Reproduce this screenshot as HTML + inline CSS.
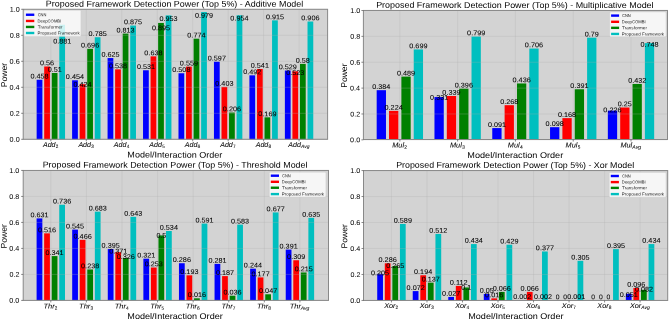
<!DOCTYPE html>
<html><head><meta charset="utf-8"><style>svg{will-change:transform}html,body{margin:0;padding:0;background:#fff;width:669px;height:321px;overflow:hidden}</style></head>
<body>
<svg width="669" height="321" viewBox="0 0 669 321" style="display:block;font-family:'Liberation Sans', sans-serif" text-rendering="geometricPrecision">
<rect width="669" height="321" fill="#fff"/>
<rect x="23.2" y="9.3" width="304.4" height="130" fill="#d3d3d3"/>
<rect x="36.65" y="79.76" width="5.75" height="59.54" fill="#0000ff"/>
<rect x="44.2" y="66.5" width="5.75" height="72.8" fill="#ff0000"/>
<rect x="51.75" y="73" width="5.75" height="66.3" fill="#008000"/>
<rect x="59.3" y="24.77" width="5.75" height="114.53" fill="#00bfbf"/>
<rect x="72.11" y="80.28" width="5.75" height="59.02" fill="#0000ff"/>
<rect x="79.66" y="84.18" width="5.75" height="55.12" fill="#ff0000"/>
<rect x="87.21" y="48.82" width="5.75" height="90.48" fill="#008000"/>
<rect x="94.76" y="37.25" width="5.75" height="102.05" fill="#00bfbf"/>
<rect x="107.57" y="58.05" width="5.75" height="81.25" fill="#0000ff"/>
<rect x="115.12" y="69.36" width="5.75" height="69.94" fill="#ff0000"/>
<rect x="122.67" y="33.61" width="5.75" height="105.69" fill="#008000"/>
<rect x="130.22" y="25.55" width="5.75" height="113.75" fill="#00bfbf"/>
<rect x="143.03" y="70.27" width="5.75" height="69.03" fill="#0000ff"/>
<rect x="150.58" y="56.36" width="5.75" height="82.94" fill="#ff0000"/>
<rect x="158.13" y="22.95" width="5.75" height="116.35" fill="#008000"/>
<rect x="165.68" y="15.41" width="5.75" height="123.89" fill="#00bfbf"/>
<rect x="178.49" y="73.26" width="5.75" height="66.04" fill="#0000ff"/>
<rect x="186.04" y="66.63" width="5.75" height="72.67" fill="#ff0000"/>
<rect x="193.59" y="38.68" width="5.75" height="100.62" fill="#008000"/>
<rect x="201.14" y="12.03" width="5.75" height="127.27" fill="#00bfbf"/>
<rect x="213.95" y="61.69" width="5.75" height="77.61" fill="#0000ff"/>
<rect x="221.5" y="86.91" width="5.75" height="52.39" fill="#ff0000"/>
<rect x="229.05" y="112.52" width="5.75" height="26.78" fill="#008000"/>
<rect x="236.6" y="15.28" width="5.75" height="124.02" fill="#00bfbf"/>
<rect x="249.41" y="75.34" width="5.75" height="63.96" fill="#0000ff"/>
<rect x="256.96" y="68.97" width="5.75" height="70.33" fill="#ff0000"/>
<rect x="264.51" y="117.33" width="5.75" height="21.97" fill="#008000"/>
<rect x="272.06" y="20.35" width="5.75" height="118.95" fill="#00bfbf"/>
<rect x="284.87" y="70.53" width="5.75" height="68.77" fill="#0000ff"/>
<rect x="292.42" y="71.31" width="5.75" height="67.99" fill="#ff0000"/>
<rect x="299.97" y="63.9" width="5.75" height="75.4" fill="#008000"/>
<rect x="307.52" y="21.52" width="5.75" height="117.78" fill="#00bfbf"/>
<path d="M23.2 139.3H327.6M23.2 113.3H327.6M23.2 87.3H327.6M23.2 61.3H327.6M23.2 35.3H327.6M23.2 9.3H327.6M50.85 9.3V139.3M86.31 9.3V139.3M121.77 9.3V139.3M157.23 9.3V139.3M192.69 9.3V139.3M228.15 9.3V139.3M263.61 9.3V139.3M299.07 9.3V139.3" stroke="#b0b0b0" stroke-opacity="0.35" stroke-width="0.8" fill="none"/>
<text x="30.44" y="78.56" font-size="6.83" textLength="18.2" lengthAdjust="spacingAndGlyphs" fill="#000" style="" transform="rotate(0.05 30.44 78.56)" stroke="#000" stroke-width="0.05">0.458</text>
<text x="40.03" y="65.3" font-size="6.83" textLength="14.13" lengthAdjust="spacingAndGlyphs" fill="#000" style="" transform="rotate(0.05 40.03 65.3)" stroke="#000" stroke-width="0.05">0.56</text>
<text x="47.67" y="71.8" font-size="6.83" textLength="13.97" lengthAdjust="spacingAndGlyphs" fill="#000" style="" transform="rotate(0.05 47.67 71.8)" stroke="#000" stroke-width="0.05">0.51</text>
<text x="53.17" y="43.4" font-size="6.83" textLength="18.08" lengthAdjust="spacingAndGlyphs" fill="#000" style="" transform="rotate(0.05 53.17 43.4)" stroke="#000" stroke-width="0.05">0.881</text>
<text x="65.86" y="79.08" font-size="6.83" textLength="18.17" lengthAdjust="spacingAndGlyphs" fill="#000" style="" transform="rotate(0.05 65.86 79.08)" stroke="#000" stroke-width="0.05">0.454</text>
<text x="73.41" y="86.8" font-size="6.83" textLength="18.17" lengthAdjust="spacingAndGlyphs" fill="#000" style="" transform="rotate(0.05 73.41 86.8)" stroke="#000" stroke-width="0.05">0.424</text>
<text x="80.98" y="47.62" font-size="6.83" textLength="18.24" lengthAdjust="spacingAndGlyphs" fill="#000" style="" transform="rotate(0.05 80.98 47.62)" stroke="#000" stroke-width="0.05">0.696</text>
<text x="88.62" y="36.05" font-size="6.83" textLength="18.06" lengthAdjust="spacingAndGlyphs" fill="#000" style="" transform="rotate(0.05 88.62 36.05)" stroke="#000" stroke-width="0.05">0.785</text>
<text x="101.43" y="56.85" font-size="6.83" textLength="18.06" lengthAdjust="spacingAndGlyphs" fill="#000" style="" transform="rotate(0.05 101.43 56.85)" stroke="#000" stroke-width="0.05">0.625</text>
<text x="108.91" y="68.16" font-size="6.83" textLength="18.2" lengthAdjust="spacingAndGlyphs" fill="#000" style="" transform="rotate(0.05 108.91 68.16)" stroke="#000" stroke-width="0.05">0.538</text>
<text x="116.5" y="32.41" font-size="6.83" textLength="18.12" lengthAdjust="spacingAndGlyphs" fill="#000" style="" transform="rotate(0.05 116.5 32.41)" stroke="#000" stroke-width="0.05">0.813</text>
<text x="124.08" y="24.35" font-size="6.83" textLength="18.06" lengthAdjust="spacingAndGlyphs" fill="#000" style="" transform="rotate(0.05 124.08 24.35)" stroke="#000" stroke-width="0.05">0.875</text>
<text x="136.9" y="69.07" font-size="6.83" textLength="18.08" lengthAdjust="spacingAndGlyphs" fill="#000" style="" transform="rotate(0.05 136.9 69.07)" stroke="#000" stroke-width="0.05">0.531</text>
<text x="144.37" y="55.16" font-size="6.83" textLength="18.2" lengthAdjust="spacingAndGlyphs" fill="#000" style="" transform="rotate(0.05 144.37 55.16)" stroke="#000" stroke-width="0.05">0.638</text>
<text x="151.99" y="30.2" font-size="6.83" textLength="18.06" lengthAdjust="spacingAndGlyphs" fill="#000" style="" transform="rotate(0.05 151.99 30.2)" stroke="#000" stroke-width="0.05">0.895</text>
<text x="159.51" y="21" font-size="6.83" textLength="18.12" lengthAdjust="spacingAndGlyphs" fill="#000" style="" transform="rotate(0.05 159.51 21)" stroke="#000" stroke-width="0.05">0.953</text>
<text x="172.28" y="72.06" font-size="6.83" textLength="18.2" lengthAdjust="spacingAndGlyphs" fill="#000" style="" transform="rotate(0.05 172.28 72.06)" stroke="#000" stroke-width="0.05">0.508</text>
<text x="179.84" y="65.43" font-size="6.83" textLength="18.22" lengthAdjust="spacingAndGlyphs" fill="#000" style="" transform="rotate(0.05 179.84 65.43)" stroke="#000" stroke-width="0.05">0.559</text>
<text x="187.34" y="37.48" font-size="6.83" textLength="18.17" lengthAdjust="spacingAndGlyphs" fill="#000" style="" transform="rotate(0.05 187.34 37.48)" stroke="#000" stroke-width="0.05">0.774</text>
<text x="194.94" y="17.7" font-size="6.83" textLength="18.22" lengthAdjust="spacingAndGlyphs" fill="#000" style="" transform="rotate(0.05 194.94 17.7)" stroke="#000" stroke-width="0.05">0.979</text>
<text x="207.8" y="60.49" font-size="6.83" textLength="18.14" lengthAdjust="spacingAndGlyphs" fill="#000" style="" transform="rotate(0.05 207.8 60.49)" stroke="#000" stroke-width="0.05">0.597</text>
<text x="215.33" y="85.71" font-size="6.83" textLength="18.12" lengthAdjust="spacingAndGlyphs" fill="#000" style="" transform="rotate(0.05 215.33 85.71)" stroke="#000" stroke-width="0.05">0.403</text>
<text x="222.82" y="111.32" font-size="6.83" textLength="18.24" lengthAdjust="spacingAndGlyphs" fill="#000" style="" transform="rotate(0.05 222.82 111.32)" stroke="#000" stroke-width="0.05">0.206</text>
<text x="230.35" y="20.6" font-size="6.83" textLength="18.17" lengthAdjust="spacingAndGlyphs" fill="#000" style="" transform="rotate(0.05 230.35 20.6)" stroke="#000" stroke-width="0.05">0.954</text>
<text x="243.31" y="74.14" font-size="6.83" textLength="18.04" lengthAdjust="spacingAndGlyphs" fill="#000" style="" transform="rotate(0.05 243.31 74.14)" stroke="#000" stroke-width="0.05">0.492</text>
<text x="250.83" y="67.77" font-size="6.83" textLength="18.08" lengthAdjust="spacingAndGlyphs" fill="#000" style="" transform="rotate(0.05 250.83 67.77)" stroke="#000" stroke-width="0.05">0.541</text>
<text x="258.31" y="116.13" font-size="6.83" textLength="18.22" lengthAdjust="spacingAndGlyphs" fill="#000" style="" transform="rotate(0.05 258.31 116.13)" stroke="#000" stroke-width="0.05">0.169</text>
<text x="265.92" y="19.15" font-size="6.83" textLength="18.06" lengthAdjust="spacingAndGlyphs" fill="#000" style="" transform="rotate(0.05 265.92 19.15)" stroke="#000" stroke-width="0.05">0.915</text>
<text x="278.67" y="69.33" font-size="6.83" textLength="18.22" lengthAdjust="spacingAndGlyphs" fill="#000" style="" transform="rotate(0.05 278.67 69.33)" stroke="#000" stroke-width="0.05">0.529</text>
<text x="286.25" y="74.9" font-size="6.83" textLength="18.12" lengthAdjust="spacingAndGlyphs" fill="#000" style="" transform="rotate(0.05 286.25 74.9)" stroke="#000" stroke-width="0.05">0.523</text>
<text x="295.81" y="62.7" font-size="6.83" textLength="14.09" lengthAdjust="spacingAndGlyphs" fill="#000" style="" transform="rotate(0.05 295.81 62.7)" stroke="#000" stroke-width="0.05">0.58</text>
<text x="301.29" y="20.32" font-size="6.83" textLength="18.24" lengthAdjust="spacingAndGlyphs" fill="#000" style="" transform="rotate(0.05 301.29 20.32)" stroke="#000" stroke-width="0.05">0.906</text>
<rect x="23.2" y="9.3" width="304.4" height="130" fill="none" stroke="#888" stroke-width="1.0"/>
<path d="M21.2 139.3H23.2M21.2 113.3H23.2M21.2 87.3H23.2M21.2 61.3H23.2M21.2 35.3H23.2M21.2 9.3H23.2M50.85 139.3V141.3M86.31 139.3V141.3M121.77 139.3V141.3M157.23 139.3V141.3M192.69 139.3V141.3M228.15 139.3V141.3M263.61 139.3V141.3M299.07 139.3V141.3" stroke="#555" stroke-width="0.7" fill="none"/>
<text x="9.64" y="141.75" font-size="6.89" textLength="10.04" lengthAdjust="spacingAndGlyphs" fill="#000" style="" transform="rotate(0.05 9.64 141.75)">0.0</text>
<text x="9.86" y="115.75" font-size="6.89" textLength="9.89" lengthAdjust="spacingAndGlyphs" fill="#000" style="" transform="rotate(0.05 9.86 115.75)">0.2</text>
<text x="9.57" y="89.75" font-size="6.89" textLength="10.04" lengthAdjust="spacingAndGlyphs" fill="#000" style="" transform="rotate(0.05 9.57 89.75)">0.4</text>
<text x="9.62" y="63.75" font-size="6.89" textLength="10.1" lengthAdjust="spacingAndGlyphs" fill="#000" style="" transform="rotate(0.05 9.62 63.75)">0.6</text>
<text x="9.65" y="37.75" font-size="6.89" textLength="10.06" lengthAdjust="spacingAndGlyphs" fill="#000" style="" transform="rotate(0.05 9.65 37.75)">0.8</text>
<text x="9.66" y="11.75" font-size="6.89" textLength="10.02" lengthAdjust="spacingAndGlyphs" fill="#000" style="" transform="rotate(0.05 9.66 11.75)">1.0</text>
<text x="42.95" y="146.9" font-size="6.89" textLength="12.54" lengthAdjust="spacingAndGlyphs" fill="#000" style="font-style:italic;" transform="rotate(0.05 42.95 146.9)" stroke="#000" stroke-width="0.05">Add</text>
<text x="55.75" y="147.97" font-size="4.82" textLength="2.57" lengthAdjust="spacingAndGlyphs" fill="#000" style="" transform="rotate(0.05 55.75 147.97)" stroke="#000" stroke-width="0.05">2</text>
<text x="78.41" y="146.9" font-size="6.89" textLength="12.54" lengthAdjust="spacingAndGlyphs" fill="#000" style="font-style:italic;" transform="rotate(0.05 78.41 146.9)" stroke="#000" stroke-width="0.05">Add</text>
<text x="91.28" y="147.97" font-size="4.82" textLength="2.56" lengthAdjust="spacingAndGlyphs" fill="#000" style="" transform="rotate(0.05 91.28 147.97)" stroke="#000" stroke-width="0.05">3</text>
<text x="113.87" y="146.9" font-size="6.89" textLength="12.54" lengthAdjust="spacingAndGlyphs" fill="#000" style="font-style:italic;" transform="rotate(0.05 113.87 146.9)" stroke="#000" stroke-width="0.05">Add</text>
<text x="126.68" y="147.97" font-size="4.82" textLength="2.67" lengthAdjust="spacingAndGlyphs" fill="#000" style="" transform="rotate(0.05 126.68 147.97)" stroke="#000" stroke-width="0.05">4</text>
<text x="149.33" y="146.9" font-size="6.89" textLength="12.54" lengthAdjust="spacingAndGlyphs" fill="#000" style="font-style:italic;" transform="rotate(0.05 149.33 146.9)" stroke="#000" stroke-width="0.05">Add</text>
<text x="162.2" y="147.97" font-size="4.82" textLength="2.52" lengthAdjust="spacingAndGlyphs" fill="#000" style="" transform="rotate(0.05 162.2 147.97)" stroke="#000" stroke-width="0.05">5</text>
<text x="184.79" y="146.9" font-size="6.89" textLength="12.54" lengthAdjust="spacingAndGlyphs" fill="#000" style="font-style:italic;" transform="rotate(0.05 184.79 146.9)" stroke="#000" stroke-width="0.05">Add</text>
<text x="197.56" y="147.97" font-size="4.82" textLength="2.76" lengthAdjust="spacingAndGlyphs" fill="#000" style="" transform="rotate(0.05 197.56 147.97)" stroke="#000" stroke-width="0.05">6</text>
<text x="220.25" y="146.9" font-size="6.89" textLength="12.54" lengthAdjust="spacingAndGlyphs" fill="#000" style="font-style:italic;" transform="rotate(0.05 220.25 146.9)" stroke="#000" stroke-width="0.05">Add</text>
<text x="233.08" y="147.97" font-size="4.82" textLength="2.61" lengthAdjust="spacingAndGlyphs" fill="#000" style="" transform="rotate(0.05 233.08 147.97)" stroke="#000" stroke-width="0.05">7</text>
<text x="255.71" y="146.9" font-size="6.89" textLength="12.54" lengthAdjust="spacingAndGlyphs" fill="#000" style="font-style:italic;" transform="rotate(0.05 255.71 146.9)" stroke="#000" stroke-width="0.05">Add</text>
<text x="268.51" y="147.97" font-size="4.82" textLength="2.7" lengthAdjust="spacingAndGlyphs" fill="#000" style="" transform="rotate(0.05 268.51 147.97)" stroke="#000" stroke-width="0.05">8</text>
<text x="288.28" y="146.9" font-size="6.89" textLength="12.54" lengthAdjust="spacingAndGlyphs" fill="#000" style="font-style:italic;" transform="rotate(0.05 288.28 146.9)" stroke="#000" stroke-width="0.05">Add</text>
<text x="300.98" y="147.97" font-size="4.82" textLength="8.56" lengthAdjust="spacingAndGlyphs" fill="#000" style="font-style:italic;" transform="rotate(0.05 300.98 147.97)" stroke="#000" stroke-width="0.05">Avg</text>
<text x="45.87" y="6.6" font-size="8.42" textLength="257.42" lengthAdjust="spacingAndGlyphs" fill="#000" style="" transform="rotate(0.05 45.87 6.6)">Proposed Framework Detection Power (Top 5%) - Additive Model</text>
<text x="127.36" y="157.6" font-size="8.42" textLength="94.99" lengthAdjust="spacingAndGlyphs" fill="#000" style="" transform="rotate(0.05 127.36 157.6)">Model/Interaction Order</text>
<text x="7" y="87.15" font-size="8.42" textLength="24.35" lengthAdjust="spacingAndGlyphs" fill="#000" transform="rotate(-89.95 7 87.15)">Power</text>
<rect x="24.1" y="10.3" width="56.8" height="26.1" rx="1" fill="#fff" fill-opacity="0.8" stroke="#ccc" stroke-opacity="0.8" stroke-width="0.5"/>
<rect x="25.9" y="13.55" width="8.4" height="2.4" fill="#0000ff"/>
<text x="37.7" y="16.2" font-size="4.24" textLength="8.69" lengthAdjust="spacingAndGlyphs" fill="#222" style="" transform="rotate(0.05 37.7 16.2)" text-rendering="auto">CNN</text>
<rect x="25.9" y="19.75" width="8.4" height="2.4" fill="#ff0000"/>
<text x="37.56" y="22.4" font-size="4.24" textLength="23.8" lengthAdjust="spacingAndGlyphs" fill="#222" style="" transform="rotate(0.05 37.56 22.4)" text-rendering="auto">DeepCOMBI</text>
<rect x="25.9" y="25.75" width="8.4" height="2.4" fill="#008000"/>
<text x="37.8" y="28.4" font-size="4.24" textLength="24.85" lengthAdjust="spacingAndGlyphs" fill="#222" style="" transform="rotate(0.05 37.8 28.4)" text-rendering="auto">Transformer</text>
<rect x="25.9" y="31.8" width="8.4" height="2.4" fill="#00bfbf"/>
<text x="37.54" y="34.45" font-size="4.24" textLength="42.23" lengthAdjust="spacingAndGlyphs" fill="#222" style="" transform="rotate(0.05 37.54 34.45)" text-rendering="auto">Proposed Framework</text>
<rect x="363.4" y="10.45" width="304.1" height="129.05" fill="#d3d3d3"/>
<rect x="376.68" y="90.18" width="9.3" height="49.67" fill="#0000ff"/>
<rect x="389.03" y="110.88" width="9.3" height="28.97" fill="#ff0000"/>
<rect x="401.38" y="76.6" width="9.3" height="63.25" fill="#008000"/>
<rect x="413.73" y="49.43" width="9.3" height="90.42" fill="#00bfbf"/>
<rect x="434.47" y="97.04" width="9.3" height="42.81" fill="#0000ff"/>
<rect x="446.82" y="96" width="9.3" height="43.85" fill="#ff0000"/>
<rect x="459.17" y="88.63" width="9.3" height="51.22" fill="#008000"/>
<rect x="471.52" y="36.5" width="9.3" height="103.35" fill="#00bfbf"/>
<rect x="492.26" y="128.08" width="9.3" height="11.77" fill="#0000ff"/>
<rect x="504.61" y="105.18" width="9.3" height="34.67" fill="#ff0000"/>
<rect x="516.96" y="83.45" width="9.3" height="56.4" fill="#008000"/>
<rect x="529.31" y="48.53" width="9.3" height="91.32" fill="#00bfbf"/>
<rect x="550.05" y="127.17" width="9.3" height="12.68" fill="#0000ff"/>
<rect x="562.4" y="118.12" width="9.3" height="21.73" fill="#ff0000"/>
<rect x="574.75" y="89.27" width="9.3" height="50.58" fill="#008000"/>
<rect x="587.1" y="37.66" width="9.3" height="102.19" fill="#00bfbf"/>
<rect x="607.84" y="110.62" width="9.3" height="29.23" fill="#0000ff"/>
<rect x="620.19" y="107.51" width="9.3" height="32.34" fill="#ff0000"/>
<rect x="632.53" y="83.97" width="9.3" height="55.88" fill="#008000"/>
<rect x="644.88" y="43.1" width="9.3" height="96.75" fill="#00bfbf"/>
<path d="M363.4 139.85H667.5M363.4 113.98H667.5M363.4 88.11H667.5M363.4 62.24H667.5M363.4 36.37H667.5M363.4 10.5H667.5M399.85 10.45V139.5M457.64 10.45V139.5M515.43 10.45V139.5M573.22 10.45V139.5M631.01 10.45V139.5" stroke="#b0b0b0" stroke-opacity="0.35" stroke-width="0.8" fill="none"/>
<text x="372.2" y="88.98" font-size="6.83" textLength="18.17" lengthAdjust="spacingAndGlyphs" fill="#000" style="" transform="rotate(0.05 372.2 88.98)" stroke="#000" stroke-width="0.05">0.384</text>
<text x="384.55" y="109.68" font-size="6.83" textLength="18.17" lengthAdjust="spacingAndGlyphs" fill="#000" style="" transform="rotate(0.05 384.55 109.68)" stroke="#000" stroke-width="0.05">0.224</text>
<text x="396.95" y="75.4" font-size="6.83" textLength="18.22" lengthAdjust="spacingAndGlyphs" fill="#000" style="" transform="rotate(0.05 396.95 75.4)" stroke="#000" stroke-width="0.05">0.489</text>
<text x="409.3" y="48.23" font-size="6.83" textLength="18.22" lengthAdjust="spacingAndGlyphs" fill="#000" style="" transform="rotate(0.05 409.3 48.23)" stroke="#000" stroke-width="0.05">0.699</text>
<text x="430.11" y="99.7" font-size="6.83" textLength="18.08" lengthAdjust="spacingAndGlyphs" fill="#000" style="" transform="rotate(0.05 430.11 99.7)" stroke="#000" stroke-width="0.05">0.331</text>
<text x="442.39" y="94.8" font-size="6.83" textLength="18.22" lengthAdjust="spacingAndGlyphs" fill="#000" style="" transform="rotate(0.05 442.39 94.8)" stroke="#000" stroke-width="0.05">0.339</text>
<text x="454.71" y="87.43" font-size="6.83" textLength="18.24" lengthAdjust="spacingAndGlyphs" fill="#000" style="" transform="rotate(0.05 454.71 87.43)" stroke="#000" stroke-width="0.05">0.396</text>
<text x="467.09" y="35.3" font-size="6.83" textLength="18.22" lengthAdjust="spacingAndGlyphs" fill="#000" style="" transform="rotate(0.05 467.09 35.3)" stroke="#000" stroke-width="0.05">0.799</text>
<text x="487.9" y="126.88" font-size="6.83" textLength="18.08" lengthAdjust="spacingAndGlyphs" fill="#000" style="" transform="rotate(0.05 487.9 126.88)" stroke="#000" stroke-width="0.05">0.091</text>
<text x="500.17" y="103.98" font-size="6.83" textLength="18.2" lengthAdjust="spacingAndGlyphs" fill="#000" style="" transform="rotate(0.05 500.17 103.98)" stroke="#000" stroke-width="0.05">0.268</text>
<text x="512.5" y="82.25" font-size="6.83" textLength="18.24" lengthAdjust="spacingAndGlyphs" fill="#000" style="" transform="rotate(0.05 512.5 82.25)" stroke="#000" stroke-width="0.05">0.436</text>
<text x="524.85" y="47.33" font-size="6.83" textLength="18.24" lengthAdjust="spacingAndGlyphs" fill="#000" style="" transform="rotate(0.05 524.85 47.33)" stroke="#000" stroke-width="0.05">0.706</text>
<text x="545.61" y="125.97" font-size="6.83" textLength="18.2" lengthAdjust="spacingAndGlyphs" fill="#000" style="" transform="rotate(0.05 545.61 125.97)" stroke="#000" stroke-width="0.05">0.098</text>
<text x="557.96" y="116.92" font-size="6.83" textLength="18.2" lengthAdjust="spacingAndGlyphs" fill="#000" style="" transform="rotate(0.05 557.96 116.92)" stroke="#000" stroke-width="0.05">0.168</text>
<text x="570.39" y="88.07" font-size="6.83" textLength="18.08" lengthAdjust="spacingAndGlyphs" fill="#000" style="" transform="rotate(0.05 570.39 88.07)" stroke="#000" stroke-width="0.05">0.391</text>
<text x="584.72" y="36.46" font-size="6.83" textLength="14.11" lengthAdjust="spacingAndGlyphs" fill="#000" style="" transform="rotate(0.05 584.72 36.46)" stroke="#000" stroke-width="0.05">0.79</text>
<text x="603.38" y="112.3" font-size="6.83" textLength="18.24" lengthAdjust="spacingAndGlyphs" fill="#000" style="" transform="rotate(0.05 603.38 112.3)" stroke="#000" stroke-width="0.05">0.226</text>
<text x="617.87" y="106.31" font-size="6.83" textLength="13.95" lengthAdjust="spacingAndGlyphs" fill="#000" style="" transform="rotate(0.05 617.87 106.31)" stroke="#000" stroke-width="0.05">0.25</text>
<text x="628.21" y="82.77" font-size="6.83" textLength="18.04" lengthAdjust="spacingAndGlyphs" fill="#000" style="" transform="rotate(0.05 628.21 82.77)" stroke="#000" stroke-width="0.05">0.432</text>
<text x="640.45" y="46.8" font-size="6.83" textLength="18.2" lengthAdjust="spacingAndGlyphs" fill="#000" style="" transform="rotate(0.05 640.45 46.8)" stroke="#000" stroke-width="0.05">0.748</text>
<rect x="363.4" y="10.45" width="304.1" height="129.05" fill="none" stroke="#888" stroke-width="1.0"/>
<path d="M361.4 139.85H363.4M361.4 113.98H363.4M361.4 88.11H363.4M361.4 62.24H363.4M361.4 36.37H363.4M361.4 10.5H363.4M399.85 139.5V141.5M457.64 139.5V141.5M515.43 139.5V141.5M573.22 139.5V141.5M631.01 139.5V141.5" stroke="#555" stroke-width="0.7" fill="none"/>
<text x="350.14" y="142.3" font-size="6.89" textLength="10.04" lengthAdjust="spacingAndGlyphs" fill="#000" style="" transform="rotate(0.05 350.14 142.3)">0.0</text>
<text x="350.36" y="116.43" font-size="6.89" textLength="9.89" lengthAdjust="spacingAndGlyphs" fill="#000" style="" transform="rotate(0.05 350.36 116.43)">0.2</text>
<text x="350.07" y="90.56" font-size="6.89" textLength="10.04" lengthAdjust="spacingAndGlyphs" fill="#000" style="" transform="rotate(0.05 350.07 90.56)">0.4</text>
<text x="350.12" y="64.69" font-size="6.89" textLength="10.1" lengthAdjust="spacingAndGlyphs" fill="#000" style="" transform="rotate(0.05 350.12 64.69)">0.6</text>
<text x="350.15" y="38.82" font-size="6.89" textLength="10.06" lengthAdjust="spacingAndGlyphs" fill="#000" style="" transform="rotate(0.05 350.15 38.82)">0.8</text>
<text x="350.16" y="12.95" font-size="6.89" textLength="10.02" lengthAdjust="spacingAndGlyphs" fill="#000" style="" transform="rotate(0.05 350.16 12.95)">1.0</text>
<text x="392.27" y="147.6" font-size="7.1" textLength="11.74" lengthAdjust="spacingAndGlyphs" fill="#000" style="font-style:italic;" transform="rotate(0.05 392.27 147.6)" stroke="#000" stroke-width="0.05">Mul</text>
<text x="404.3" y="148.7" font-size="4.97" textLength="2.65" lengthAdjust="spacingAndGlyphs" fill="#000" style="" transform="rotate(0.05 404.3 148.7)" stroke="#000" stroke-width="0.05">2</text>
<text x="450.06" y="147.6" font-size="7.1" textLength="11.74" lengthAdjust="spacingAndGlyphs" fill="#000" style="font-style:italic;" transform="rotate(0.05 450.06 147.6)" stroke="#000" stroke-width="0.05">Mul</text>
<text x="462.17" y="148.7" font-size="4.97" textLength="2.64" lengthAdjust="spacingAndGlyphs" fill="#000" style="" transform="rotate(0.05 462.17 148.7)" stroke="#000" stroke-width="0.05">3</text>
<text x="507.85" y="147.6" font-size="7.1" textLength="11.74" lengthAdjust="spacingAndGlyphs" fill="#000" style="font-style:italic;" transform="rotate(0.05 507.85 147.6)" stroke="#000" stroke-width="0.05">Mul</text>
<text x="519.9" y="148.7" font-size="4.97" textLength="2.75" lengthAdjust="spacingAndGlyphs" fill="#000" style="" transform="rotate(0.05 519.9 148.7)" stroke="#000" stroke-width="0.05">4</text>
<text x="565.64" y="147.6" font-size="7.1" textLength="11.74" lengthAdjust="spacingAndGlyphs" fill="#000" style="font-style:italic;" transform="rotate(0.05 565.64 147.6)" stroke="#000" stroke-width="0.05">Mul</text>
<text x="577.75" y="148.7" font-size="4.97" textLength="2.59" lengthAdjust="spacingAndGlyphs" fill="#000" style="" transform="rotate(0.05 577.75 148.7)" stroke="#000" stroke-width="0.05">5</text>
<text x="620.45" y="147.6" font-size="7.1" textLength="11.74" lengthAdjust="spacingAndGlyphs" fill="#000" style="font-style:italic;" transform="rotate(0.05 620.45 147.6)" stroke="#000" stroke-width="0.05">Mul</text>
<text x="632.38" y="148.7" font-size="4.97" textLength="8.82" lengthAdjust="spacingAndGlyphs" fill="#000" style="font-style:italic;" transform="rotate(0.05 632.38 148.7)" stroke="#000" stroke-width="0.05">Avg</text>
<text x="376.17" y="7.8" font-size="8.42" textLength="277.43" lengthAdjust="spacingAndGlyphs" fill="#000" style="" transform="rotate(0.05 376.17 7.8)">Proposed Framework Detection Power (Top 5%) - Multiplicative Model</text>
<text x="467.35" y="157.9" font-size="8.42" textLength="95.9" lengthAdjust="spacingAndGlyphs" fill="#000" style="" transform="rotate(0.05 467.35 157.9)">Model/Interaction Order</text>
<text x="347" y="87.85" font-size="8.42" textLength="24.35" lengthAdjust="spacingAndGlyphs" fill="#000" transform="rotate(-89.95 347 87.85)">Power</text>
<rect x="609.8" y="11.9" width="56.2" height="24.8" rx="1" fill="#fff" fill-opacity="0.8" stroke="#ccc" stroke-opacity="0.8" stroke-width="0.5"/>
<rect x="611.1" y="14.4" width="8" height="2.4" fill="#0000ff"/>
<text x="622" y="17.05" font-size="4.24" textLength="8.69" lengthAdjust="spacingAndGlyphs" fill="#222" style="" transform="rotate(0.05 622 17.05)" text-rendering="auto">CNN</text>
<rect x="611.1" y="20.6" width="8" height="2.4" fill="#ff0000"/>
<text x="621.86" y="23.25" font-size="4.24" textLength="23.8" lengthAdjust="spacingAndGlyphs" fill="#222" style="" transform="rotate(0.05 621.86 23.25)" text-rendering="auto">DeepCOMBI</text>
<rect x="611.1" y="26.65" width="8" height="2.4" fill="#008000"/>
<text x="622.1" y="29.3" font-size="4.24" textLength="24.85" lengthAdjust="spacingAndGlyphs" fill="#222" style="" transform="rotate(0.05 622.1 29.3)" text-rendering="auto">Transformer</text>
<rect x="611.1" y="32.75" width="8" height="2.4" fill="#00bfbf"/>
<text x="621.84" y="35.4" font-size="4.24" textLength="42.23" lengthAdjust="spacingAndGlyphs" fill="#222" style="" transform="rotate(0.05 621.84 35.4)" text-rendering="auto">Proposed Framework</text>
<rect x="23.2" y="170.45" width="305.3" height="129.95" fill="#d3d3d3"/>
<rect x="36.6" y="218.4" width="5.75" height="82" fill="#0000ff"/>
<rect x="44.15" y="233.35" width="5.75" height="67.05" fill="#ff0000"/>
<rect x="51.7" y="256.09" width="5.75" height="44.31" fill="#008000"/>
<rect x="59.25" y="204.76" width="5.75" height="95.64" fill="#00bfbf"/>
<rect x="72.19" y="229.58" width="5.75" height="70.82" fill="#0000ff"/>
<rect x="79.74" y="239.84" width="5.75" height="60.56" fill="#ff0000"/>
<rect x="87.29" y="269.47" width="5.75" height="30.93" fill="#008000"/>
<rect x="94.84" y="211.64" width="5.75" height="88.76" fill="#00bfbf"/>
<rect x="107.78" y="249.07" width="5.75" height="51.33" fill="#0000ff"/>
<rect x="115.33" y="252.19" width="5.75" height="48.21" fill="#ff0000"/>
<rect x="122.88" y="258.04" width="5.75" height="42.36" fill="#008000"/>
<rect x="130.43" y="216.84" width="5.75" height="83.56" fill="#00bfbf"/>
<rect x="143.37" y="258.69" width="5.75" height="41.71" fill="#0000ff"/>
<rect x="150.92" y="267.52" width="5.75" height="32.88" fill="#ff0000"/>
<rect x="158.47" y="235.42" width="5.75" height="64.97" fill="#008000"/>
<rect x="166.02" y="231.01" width="5.75" height="69.39" fill="#00bfbf"/>
<rect x="178.96" y="263.23" width="5.75" height="37.17" fill="#0000ff"/>
<rect x="186.51" y="275.32" width="5.75" height="25.08" fill="#ff0000"/>
<rect x="194.06" y="298.32" width="5.75" height="2.08" fill="#008000"/>
<rect x="201.61" y="223.6" width="5.75" height="76.8" fill="#00bfbf"/>
<rect x="214.55" y="263.88" width="5.75" height="36.52" fill="#0000ff"/>
<rect x="222.1" y="276.1" width="5.75" height="24.3" fill="#ff0000"/>
<rect x="229.65" y="295.72" width="5.75" height="4.68" fill="#008000"/>
<rect x="237.2" y="224.64" width="5.75" height="75.76" fill="#00bfbf"/>
<rect x="250.14" y="268.69" width="5.75" height="31.71" fill="#0000ff"/>
<rect x="257.69" y="277.4" width="5.75" height="23" fill="#ff0000"/>
<rect x="265.24" y="294.29" width="5.75" height="6.11" fill="#008000"/>
<rect x="272.79" y="212.42" width="5.75" height="87.98" fill="#00bfbf"/>
<rect x="285.73" y="249.59" width="5.75" height="50.81" fill="#0000ff"/>
<rect x="293.28" y="260.25" width="5.75" height="40.15" fill="#ff0000"/>
<rect x="300.83" y="272.46" width="5.75" height="27.94" fill="#008000"/>
<rect x="308.38" y="217.88" width="5.75" height="82.52" fill="#00bfbf"/>
<path d="M23.2 300.4H328.5M23.2 274.41H328.5M23.2 248.42H328.5M23.2 222.43H328.5M23.2 196.44H328.5M23.2 170.45H328.5M50.8 170.45V300.4M86.39 170.45V300.4M121.98 170.45V300.4M157.57 170.45V300.4M193.16 170.45V300.4M228.75 170.45V300.4M264.34 170.45V300.4M299.93 170.45V300.4" stroke="#b0b0b0" stroke-opacity="0.35" stroke-width="0.8" fill="none"/>
<text x="30.47" y="217.2" font-size="6.83" textLength="18.08" lengthAdjust="spacingAndGlyphs" fill="#000" style="" transform="rotate(0.05 30.47 217.2)" stroke="#000" stroke-width="0.05">0.631</text>
<text x="37.92" y="232.15" font-size="6.83" textLength="18.24" lengthAdjust="spacingAndGlyphs" fill="#000" style="" transform="rotate(0.05 37.92 232.15)" stroke="#000" stroke-width="0.05">0.516</text>
<text x="45.57" y="254.89" font-size="6.83" textLength="18.08" lengthAdjust="spacingAndGlyphs" fill="#000" style="" transform="rotate(0.05 45.57 254.89)" stroke="#000" stroke-width="0.05">0.341</text>
<text x="53.02" y="203.56" font-size="6.83" textLength="18.24" lengthAdjust="spacingAndGlyphs" fill="#000" style="" transform="rotate(0.05 53.02 203.56)" stroke="#000" stroke-width="0.05">0.736</text>
<text x="66.05" y="228.38" font-size="6.83" textLength="18.06" lengthAdjust="spacingAndGlyphs" fill="#000" style="" transform="rotate(0.05 66.05 228.38)" stroke="#000" stroke-width="0.05">0.545</text>
<text x="73.51" y="238.64" font-size="6.83" textLength="18.24" lengthAdjust="spacingAndGlyphs" fill="#000" style="" transform="rotate(0.05 73.51 238.64)" stroke="#000" stroke-width="0.05">0.466</text>
<text x="81.08" y="268.27" font-size="6.83" textLength="18.2" lengthAdjust="spacingAndGlyphs" fill="#000" style="" transform="rotate(0.05 81.08 268.27)" stroke="#000" stroke-width="0.05">0.238</text>
<text x="88.67" y="210.44" font-size="6.83" textLength="18.12" lengthAdjust="spacingAndGlyphs" fill="#000" style="" transform="rotate(0.05 88.67 210.44)" stroke="#000" stroke-width="0.05">0.683</text>
<text x="101.64" y="247.87" font-size="6.83" textLength="18.06" lengthAdjust="spacingAndGlyphs" fill="#000" style="" transform="rotate(0.05 101.64 247.87)" stroke="#000" stroke-width="0.05">0.395</text>
<text x="109.2" y="253.5" font-size="6.83" textLength="18.08" lengthAdjust="spacingAndGlyphs" fill="#000" style="" transform="rotate(0.05 109.2 253.5)" stroke="#000" stroke-width="0.05">0.371</text>
<text x="116.65" y="258.9" font-size="6.83" textLength="18.24" lengthAdjust="spacingAndGlyphs" fill="#000" style="" transform="rotate(0.05 116.65 258.9)" stroke="#000" stroke-width="0.05">0.326</text>
<text x="124.26" y="215.64" font-size="6.83" textLength="18.12" lengthAdjust="spacingAndGlyphs" fill="#000" style="" transform="rotate(0.05 124.26 215.64)" stroke="#000" stroke-width="0.05">0.643</text>
<text x="137.24" y="257.49" font-size="6.83" textLength="18.08" lengthAdjust="spacingAndGlyphs" fill="#000" style="" transform="rotate(0.05 137.24 257.49)" stroke="#000" stroke-width="0.05">0.321</text>
<text x="144.75" y="266.32" font-size="6.83" textLength="18.12" lengthAdjust="spacingAndGlyphs" fill="#000" style="" transform="rotate(0.05 144.75 266.32)" stroke="#000" stroke-width="0.05">0.253</text>
<text x="156.43" y="237.7" font-size="6.83" textLength="9.84" lengthAdjust="spacingAndGlyphs" fill="#000" style="" transform="rotate(0.05 156.43 237.7)" stroke="#000" stroke-width="0.05">0.5</text>
<text x="159.77" y="229.81" font-size="6.83" textLength="18.17" lengthAdjust="spacingAndGlyphs" fill="#000" style="" transform="rotate(0.05 159.77 229.81)" stroke="#000" stroke-width="0.05">0.534</text>
<text x="172.73" y="262.03" font-size="6.83" textLength="18.24" lengthAdjust="spacingAndGlyphs" fill="#000" style="" transform="rotate(0.05 172.73 262.03)" stroke="#000" stroke-width="0.05">0.286</text>
<text x="180.34" y="274.12" font-size="6.83" textLength="18.12" lengthAdjust="spacingAndGlyphs" fill="#000" style="" transform="rotate(0.05 180.34 274.12)" stroke="#000" stroke-width="0.05">0.193</text>
<text x="187.83" y="297.12" font-size="6.83" textLength="18.24" lengthAdjust="spacingAndGlyphs" fill="#000" style="" transform="rotate(0.05 187.83 297.12)" stroke="#000" stroke-width="0.05">0.016</text>
<text x="195.48" y="222.4" font-size="6.83" textLength="18.08" lengthAdjust="spacingAndGlyphs" fill="#000" style="" transform="rotate(0.05 195.48 222.4)" stroke="#000" stroke-width="0.05">0.591</text>
<text x="208.42" y="262.68" font-size="6.83" textLength="18.08" lengthAdjust="spacingAndGlyphs" fill="#000" style="" transform="rotate(0.05 208.42 262.68)" stroke="#000" stroke-width="0.05">0.281</text>
<text x="215.95" y="274.9" font-size="6.83" textLength="18.14" lengthAdjust="spacingAndGlyphs" fill="#000" style="" transform="rotate(0.05 215.95 274.9)" stroke="#000" stroke-width="0.05">0.187</text>
<text x="223.42" y="294.52" font-size="6.83" textLength="18.24" lengthAdjust="spacingAndGlyphs" fill="#000" style="" transform="rotate(0.05 223.42 294.52)" stroke="#000" stroke-width="0.05">0.036</text>
<text x="231.03" y="223.44" font-size="6.83" textLength="18.12" lengthAdjust="spacingAndGlyphs" fill="#000" style="" transform="rotate(0.05 231.03 223.44)" stroke="#000" stroke-width="0.05">0.583</text>
<text x="243.89" y="267.49" font-size="6.83" textLength="18.17" lengthAdjust="spacingAndGlyphs" fill="#000" style="" transform="rotate(0.05 243.89 267.49)" stroke="#000" stroke-width="0.05">0.244</text>
<text x="251.54" y="276.2" font-size="6.83" textLength="18.14" lengthAdjust="spacingAndGlyphs" fill="#000" style="" transform="rotate(0.05 251.54 276.2)" stroke="#000" stroke-width="0.05">0.177</text>
<text x="259.09" y="293.09" font-size="6.83" textLength="18.14" lengthAdjust="spacingAndGlyphs" fill="#000" style="" transform="rotate(0.05 259.09 293.09)" stroke="#000" stroke-width="0.05">0.047</text>
<text x="266.64" y="211.22" font-size="6.83" textLength="18.14" lengthAdjust="spacingAndGlyphs" fill="#000" style="" transform="rotate(0.05 266.64 211.22)" stroke="#000" stroke-width="0.05">0.677</text>
<text x="279.6" y="248.39" font-size="6.83" textLength="18.08" lengthAdjust="spacingAndGlyphs" fill="#000" style="" transform="rotate(0.05 279.6 248.39)" stroke="#000" stroke-width="0.05">0.391</text>
<text x="287.08" y="259.05" font-size="6.83" textLength="18.22" lengthAdjust="spacingAndGlyphs" fill="#000" style="" transform="rotate(0.05 287.08 259.05)" stroke="#000" stroke-width="0.05">0.309</text>
<text x="294.69" y="271.26" font-size="6.83" textLength="18.06" lengthAdjust="spacingAndGlyphs" fill="#000" style="" transform="rotate(0.05 294.69 271.26)" stroke="#000" stroke-width="0.05">0.215</text>
<text x="302.24" y="216.68" font-size="6.83" textLength="18.06" lengthAdjust="spacingAndGlyphs" fill="#000" style="" transform="rotate(0.05 302.24 216.68)" stroke="#000" stroke-width="0.05">0.635</text>
<rect x="23.2" y="170.45" width="305.3" height="129.95" fill="none" stroke="#888" stroke-width="1.0"/>
<path d="M21.2 300.4H23.2M21.2 274.41H23.2M21.2 248.42H23.2M21.2 222.43H23.2M21.2 196.44H23.2M21.2 170.45H23.2M50.8 300.4V302.4M86.39 300.4V302.4M121.98 300.4V302.4M157.57 300.4V302.4M193.16 300.4V302.4M228.75 300.4V302.4M264.34 300.4V302.4M299.93 300.4V302.4" stroke="#555" stroke-width="0.7" fill="none"/>
<text x="9.24" y="302.85" font-size="6.89" textLength="10.04" lengthAdjust="spacingAndGlyphs" fill="#000" style="" transform="rotate(0.05 9.24 302.85)">0.0</text>
<text x="9.46" y="276.86" font-size="6.89" textLength="9.89" lengthAdjust="spacingAndGlyphs" fill="#000" style="" transform="rotate(0.05 9.46 276.86)">0.2</text>
<text x="9.17" y="250.87" font-size="6.89" textLength="10.04" lengthAdjust="spacingAndGlyphs" fill="#000" style="" transform="rotate(0.05 9.17 250.87)">0.4</text>
<text x="9.22" y="224.88" font-size="6.89" textLength="10.1" lengthAdjust="spacingAndGlyphs" fill="#000" style="" transform="rotate(0.05 9.22 224.88)">0.6</text>
<text x="9.25" y="198.89" font-size="6.89" textLength="10.06" lengthAdjust="spacingAndGlyphs" fill="#000" style="" transform="rotate(0.05 9.25 198.89)">0.8</text>
<text x="9.26" y="172.9" font-size="6.89" textLength="10.02" lengthAdjust="spacingAndGlyphs" fill="#000" style="" transform="rotate(0.05 9.26 172.9)">1.0</text>
<text x="43.48" y="308.6" font-size="6.89" textLength="11.24" lengthAdjust="spacingAndGlyphs" fill="#000" style="font-style:italic;" transform="rotate(0.05 43.48 308.6)" stroke="#000" stroke-width="0.05">Thr</text>
<text x="54.74" y="309.67" font-size="4.82" textLength="2.57" lengthAdjust="spacingAndGlyphs" fill="#000" style="" transform="rotate(0.05 54.74 309.67)" stroke="#000" stroke-width="0.05">2</text>
<text x="79.07" y="308.6" font-size="6.89" textLength="11.24" lengthAdjust="spacingAndGlyphs" fill="#000" style="font-style:italic;" transform="rotate(0.05 79.07 308.6)" stroke="#000" stroke-width="0.05">Thr</text>
<text x="90.4" y="309.67" font-size="4.82" textLength="2.56" lengthAdjust="spacingAndGlyphs" fill="#000" style="" transform="rotate(0.05 90.4 309.67)" stroke="#000" stroke-width="0.05">3</text>
<text x="114.66" y="308.6" font-size="6.89" textLength="11.24" lengthAdjust="spacingAndGlyphs" fill="#000" style="font-style:italic;" transform="rotate(0.05 114.66 308.6)" stroke="#000" stroke-width="0.05">Thr</text>
<text x="125.93" y="309.67" font-size="4.82" textLength="2.67" lengthAdjust="spacingAndGlyphs" fill="#000" style="" transform="rotate(0.05 125.93 309.67)" stroke="#000" stroke-width="0.05">4</text>
<text x="150.25" y="308.6" font-size="6.89" textLength="11.24" lengthAdjust="spacingAndGlyphs" fill="#000" style="font-style:italic;" transform="rotate(0.05 150.25 308.6)" stroke="#000" stroke-width="0.05">Thr</text>
<text x="161.58" y="309.67" font-size="4.82" textLength="2.52" lengthAdjust="spacingAndGlyphs" fill="#000" style="" transform="rotate(0.05 161.58 309.67)" stroke="#000" stroke-width="0.05">5</text>
<text x="185.84" y="308.6" font-size="6.89" textLength="11.24" lengthAdjust="spacingAndGlyphs" fill="#000" style="font-style:italic;" transform="rotate(0.05 185.84 308.6)" stroke="#000" stroke-width="0.05">Thr</text>
<text x="197.07" y="309.67" font-size="4.82" textLength="2.76" lengthAdjust="spacingAndGlyphs" fill="#000" style="" transform="rotate(0.05 197.07 309.67)" stroke="#000" stroke-width="0.05">6</text>
<text x="221.43" y="308.6" font-size="6.89" textLength="11.24" lengthAdjust="spacingAndGlyphs" fill="#000" style="font-style:italic;" transform="rotate(0.05 221.43 308.6)" stroke="#000" stroke-width="0.05">Thr</text>
<text x="232.72" y="309.67" font-size="4.82" textLength="2.61" lengthAdjust="spacingAndGlyphs" fill="#000" style="" transform="rotate(0.05 232.72 309.67)" stroke="#000" stroke-width="0.05">7</text>
<text x="257.02" y="308.6" font-size="6.89" textLength="11.24" lengthAdjust="spacingAndGlyphs" fill="#000" style="font-style:italic;" transform="rotate(0.05 257.02 308.6)" stroke="#000" stroke-width="0.05">Thr</text>
<text x="268.28" y="309.67" font-size="4.82" textLength="2.7" lengthAdjust="spacingAndGlyphs" fill="#000" style="" transform="rotate(0.05 268.28 309.67)" stroke="#000" stroke-width="0.05">8</text>
<text x="289.69" y="308.6" font-size="6.89" textLength="11.24" lengthAdjust="spacingAndGlyphs" fill="#000" style="font-style:italic;" transform="rotate(0.05 289.69 308.6)" stroke="#000" stroke-width="0.05">Thr</text>
<text x="300.85" y="309.67" font-size="4.82" textLength="8.56" lengthAdjust="spacingAndGlyphs" fill="#000" style="font-style:italic;" transform="rotate(0.05 300.85 309.67)" stroke="#000" stroke-width="0.05">Avg</text>
<text x="42.67" y="167.6" font-size="8.42" textLength="264.82" lengthAdjust="spacingAndGlyphs" fill="#000" style="" transform="rotate(0.05 42.67 167.6)">Proposed Framework Detection Power (Top 5%) - Threshold Model</text>
<text x="127.36" y="319" font-size="8.42" textLength="95.4" lengthAdjust="spacingAndGlyphs" fill="#000" style="" transform="rotate(0.05 127.36 319)">Model/Interaction Order</text>
<text x="6.8" y="248.5" font-size="8.42" textLength="24.35" lengthAdjust="spacingAndGlyphs" fill="#000" transform="rotate(-89.95 6.8 248.5)">Power</text>
<rect x="269.4" y="172.2" width="56.5" height="24.9" rx="1" fill="#fff" fill-opacity="0.8" stroke="#ccc" stroke-opacity="0.8" stroke-width="0.5"/>
<rect x="270.8" y="174.5" width="8.2" height="2.4" fill="#0000ff"/>
<text x="282" y="177.15" font-size="4.24" textLength="8.69" lengthAdjust="spacingAndGlyphs" fill="#222" style="" transform="rotate(0.05 282 177.15)" text-rendering="auto">CNN</text>
<rect x="270.8" y="180.6" width="8.2" height="2.4" fill="#ff0000"/>
<text x="281.86" y="183.25" font-size="4.24" textLength="23.8" lengthAdjust="spacingAndGlyphs" fill="#222" style="" transform="rotate(0.05 281.86 183.25)" text-rendering="auto">DeepCOMBI</text>
<rect x="270.8" y="186.55" width="8.2" height="2.4" fill="#008000"/>
<text x="282.1" y="189.2" font-size="4.24" textLength="24.85" lengthAdjust="spacingAndGlyphs" fill="#222" style="" transform="rotate(0.05 282.1 189.2)" text-rendering="auto">Transformer</text>
<rect x="270.8" y="192.9" width="8.2" height="2.4" fill="#00bfbf"/>
<text x="281.84" y="195.55" font-size="4.24" textLength="42.23" lengthAdjust="spacingAndGlyphs" fill="#222" style="" transform="rotate(0.05 281.84 195.55)" text-rendering="auto">Proposed Framework</text>
<rect x="363.5" y="170.55" width="304.2" height="129.9" fill="#d3d3d3"/>
<rect x="377.22" y="273.82" width="5.75" height="26.63" fill="#0000ff"/>
<rect x="384.79" y="263.3" width="5.75" height="37.15" fill="#ff0000"/>
<rect x="392.36" y="266.03" width="5.75" height="34.42" fill="#008000"/>
<rect x="399.93" y="223.94" width="5.75" height="76.51" fill="#00bfbf"/>
<rect x="412.74" y="291.1" width="5.75" height="9.35" fill="#0000ff"/>
<rect x="420.31" y="275.25" width="5.75" height="25.2" fill="#ff0000"/>
<rect x="427.88" y="282.65" width="5.75" height="17.8" fill="#008000"/>
<rect x="435.45" y="233.94" width="5.75" height="66.51" fill="#00bfbf"/>
<rect x="448.26" y="296.94" width="5.75" height="3.51" fill="#0000ff"/>
<rect x="455.83" y="285.9" width="5.75" height="14.55" fill="#ff0000"/>
<rect x="463.4" y="287.46" width="5.75" height="12.99" fill="#008000"/>
<rect x="470.97" y="244.07" width="5.75" height="56.38" fill="#00bfbf"/>
<rect x="483.78" y="293.95" width="5.75" height="6.5" fill="#0000ff"/>
<rect x="491.35" y="298.37" width="5.75" height="2.08" fill="#ff0000"/>
<rect x="498.92" y="291.88" width="5.75" height="8.57" fill="#008000"/>
<rect x="506.49" y="244.72" width="5.75" height="55.73" fill="#00bfbf"/>
<rect x="519.3" y="300.19" width="5.75" height="0.26" fill="#0000ff"/>
<rect x="526.87" y="291.88" width="5.75" height="8.57" fill="#ff0000"/>
<rect x="534.44" y="300.19" width="5.75" height="0.26" fill="#008000"/>
<rect x="542.01" y="251.48" width="5.75" height="48.97" fill="#00bfbf"/>
<rect x="569.96" y="300.32" width="5.75" height="0.13" fill="#008000"/>
<rect x="577.53" y="260.83" width="5.75" height="39.62" fill="#00bfbf"/>
<rect x="613.05" y="249.14" width="5.75" height="51.31" fill="#00bfbf"/>
<rect x="625.86" y="293.83" width="5.75" height="6.62" fill="#0000ff"/>
<rect x="633.43" y="287.98" width="5.75" height="12.47" fill="#ff0000"/>
<rect x="641" y="289.8" width="5.75" height="10.65" fill="#008000"/>
<rect x="648.57" y="244.07" width="5.75" height="56.38" fill="#00bfbf"/>
<path d="M363.5 300.45H667.7M363.5 274.47H667.7M363.5 248.49H667.7M363.5 222.51H667.7M363.5 196.53H667.7M363.5 170.55H667.7M391.45 170.55V300.45M426.97 170.55V300.45M462.49 170.55V300.45M498.01 170.55V300.45M533.53 170.55V300.45M569.05 170.55V300.45M604.57 170.55V300.45M640.09 170.55V300.45" stroke="#b0b0b0" stroke-opacity="0.35" stroke-width="0.8" fill="none"/>
<text x="371.08" y="275.2" font-size="6.83" textLength="18.06" lengthAdjust="spacingAndGlyphs" fill="#000" style="" transform="rotate(0.05 371.08 275.2)" stroke="#000" stroke-width="0.05">0.205</text>
<text x="378.56" y="262.1" font-size="6.83" textLength="18.24" lengthAdjust="spacingAndGlyphs" fill="#000" style="" transform="rotate(0.05 378.56 262.1)" stroke="#000" stroke-width="0.05">0.286</text>
<text x="386.22" y="267.9" font-size="6.83" textLength="18.06" lengthAdjust="spacingAndGlyphs" fill="#000" style="" transform="rotate(0.05 386.22 267.9)" stroke="#000" stroke-width="0.05">0.265</text>
<text x="393.73" y="222.74" font-size="6.83" textLength="18.22" lengthAdjust="spacingAndGlyphs" fill="#000" style="" transform="rotate(0.05 393.73 222.74)" stroke="#000" stroke-width="0.05">0.589</text>
<text x="406.64" y="289.9" font-size="6.83" textLength="18.04" lengthAdjust="spacingAndGlyphs" fill="#000" style="" transform="rotate(0.05 406.64 289.9)" stroke="#000" stroke-width="0.05">0.072</text>
<text x="414.06" y="274.05" font-size="6.83" textLength="18.17" lengthAdjust="spacingAndGlyphs" fill="#000" style="" transform="rotate(0.05 414.06 274.05)" stroke="#000" stroke-width="0.05">0.194</text>
<text x="421.73" y="281.45" font-size="6.83" textLength="18.14" lengthAdjust="spacingAndGlyphs" fill="#000" style="" transform="rotate(0.05 421.73 281.45)" stroke="#000" stroke-width="0.05">0.137</text>
<text x="429.35" y="232.74" font-size="6.83" textLength="18.04" lengthAdjust="spacingAndGlyphs" fill="#000" style="" transform="rotate(0.05 429.35 232.74)" stroke="#000" stroke-width="0.05">0.512</text>
<text x="442.11" y="295.74" font-size="6.83" textLength="18.14" lengthAdjust="spacingAndGlyphs" fill="#000" style="" transform="rotate(0.05 442.11 295.74)" stroke="#000" stroke-width="0.05">0.027</text>
<text x="449.73" y="284.7" font-size="6.83" textLength="18.04" lengthAdjust="spacingAndGlyphs" fill="#000" style="" transform="rotate(0.05 449.73 284.7)" stroke="#000" stroke-width="0.05">0.112</text>
<text x="461.38" y="289.7" font-size="6.83" textLength="9.86" lengthAdjust="spacingAndGlyphs" fill="#000" style="" transform="rotate(0.05 461.38 289.7)" stroke="#000" stroke-width="0.05">0.1</text>
<text x="464.72" y="242.87" font-size="6.83" textLength="18.17" lengthAdjust="spacingAndGlyphs" fill="#000" style="" transform="rotate(0.05 464.72 242.87)" stroke="#000" stroke-width="0.05">0.434</text>
<text x="479.69" y="292.75" font-size="6.83" textLength="13.95" lengthAdjust="spacingAndGlyphs" fill="#000" style="" transform="rotate(0.05 479.69 292.75)" stroke="#000" stroke-width="0.05">0.05</text>
<text x="485.12" y="297.17" font-size="6.83" textLength="18.24" lengthAdjust="spacingAndGlyphs" fill="#000" style="" transform="rotate(0.05 485.12 297.17)" stroke="#000" stroke-width="0.05">0.016</text>
<text x="492.69" y="290.68" font-size="6.83" textLength="18.24" lengthAdjust="spacingAndGlyphs" fill="#000" style="" transform="rotate(0.05 492.69 290.68)" stroke="#000" stroke-width="0.05">0.066</text>
<text x="500.29" y="243.52" font-size="6.83" textLength="18.22" lengthAdjust="spacingAndGlyphs" fill="#000" style="" transform="rotate(0.05 500.29 243.52)" stroke="#000" stroke-width="0.05">0.429</text>
<text x="513.2" y="298.99" font-size="6.83" textLength="18.04" lengthAdjust="spacingAndGlyphs" fill="#000" style="" transform="rotate(0.05 513.2 298.99)" stroke="#000" stroke-width="0.05">0.002</text>
<text x="520.64" y="290.68" font-size="6.83" textLength="18.24" lengthAdjust="spacingAndGlyphs" fill="#000" style="" transform="rotate(0.05 520.64 290.68)" stroke="#000" stroke-width="0.05">0.066</text>
<text x="534.07" y="298.9" font-size="6.83" textLength="18.04" lengthAdjust="spacingAndGlyphs" fill="#000" style="" transform="rotate(0.05 534.07 298.9)" stroke="#000" stroke-width="0.05">0.002</text>
<text x="535.86" y="250.28" font-size="6.83" textLength="18.14" lengthAdjust="spacingAndGlyphs" fill="#000" style="" transform="rotate(0.05 535.86 250.28)" stroke="#000" stroke-width="0.05">0.377</text>
<text x="555.8" y="299.25" font-size="6.83" textLength="3.78" lengthAdjust="spacingAndGlyphs" fill="#000" style="" transform="rotate(0.05 555.8 299.25)" stroke="#000" stroke-width="0.05">0</text>
<text x="563.37" y="299.25" font-size="6.83" textLength="3.78" lengthAdjust="spacingAndGlyphs" fill="#000" style="" transform="rotate(0.05 563.37 299.25)" stroke="#000" stroke-width="0.05">0</text>
<text x="567.2" y="298.9" font-size="6.83" textLength="18.08" lengthAdjust="spacingAndGlyphs" fill="#000" style="" transform="rotate(0.05 567.2 298.9)" stroke="#000" stroke-width="0.05">0.001</text>
<text x="571.39" y="259.63" font-size="6.83" textLength="18.06" lengthAdjust="spacingAndGlyphs" fill="#000" style="" transform="rotate(0.05 571.39 259.63)" stroke="#000" stroke-width="0.05">0.305</text>
<text x="591.32" y="299.25" font-size="6.83" textLength="3.78" lengthAdjust="spacingAndGlyphs" fill="#000" style="" transform="rotate(0.05 591.32 299.25)" stroke="#000" stroke-width="0.05">0</text>
<text x="598.89" y="299.25" font-size="6.83" textLength="3.78" lengthAdjust="spacingAndGlyphs" fill="#000" style="" transform="rotate(0.05 598.89 299.25)" stroke="#000" stroke-width="0.05">0</text>
<text x="606.46" y="299.25" font-size="6.83" textLength="3.78" lengthAdjust="spacingAndGlyphs" fill="#000" style="" transform="rotate(0.05 606.46 299.25)" stroke="#000" stroke-width="0.05">0</text>
<text x="606.91" y="247.94" font-size="6.83" textLength="18.06" lengthAdjust="spacingAndGlyphs" fill="#000" style="" transform="rotate(0.05 606.91 247.94)" stroke="#000" stroke-width="0.05">0.395</text>
<text x="619.73" y="296.9" font-size="6.83" textLength="18.08" lengthAdjust="spacingAndGlyphs" fill="#000" style="" transform="rotate(0.05 619.73 296.9)" stroke="#000" stroke-width="0.05">0.051</text>
<text x="627.2" y="286.78" font-size="6.83" textLength="18.24" lengthAdjust="spacingAndGlyphs" fill="#000" style="" transform="rotate(0.05 627.2 286.78)" stroke="#000" stroke-width="0.05">0.096</text>
<text x="634.9" y="291.4" font-size="6.83" textLength="18.04" lengthAdjust="spacingAndGlyphs" fill="#000" style="" transform="rotate(0.05 634.9 291.4)" stroke="#000" stroke-width="0.05">0.082</text>
<text x="642.32" y="242.87" font-size="6.83" textLength="18.17" lengthAdjust="spacingAndGlyphs" fill="#000" style="" transform="rotate(0.05 642.32 242.87)" stroke="#000" stroke-width="0.05">0.434</text>
<rect x="363.5" y="170.55" width="304.2" height="129.9" fill="none" stroke="#888" stroke-width="1.0"/>
<path d="M361.5 300.45H363.5M361.5 274.47H363.5M361.5 248.49H363.5M361.5 222.51H363.5M361.5 196.53H363.5M361.5 170.55H363.5M391.45 300.45V302.45M426.97 300.45V302.45M462.49 300.45V302.45M498.01 300.45V302.45M533.53 300.45V302.45M569.05 300.45V302.45M604.57 300.45V302.45M640.09 300.45V302.45" stroke="#555" stroke-width="0.7" fill="none"/>
<text x="350.24" y="302.9" font-size="6.89" textLength="10.04" lengthAdjust="spacingAndGlyphs" fill="#000" style="" transform="rotate(0.05 350.24 302.9)">0.0</text>
<text x="350.46" y="276.92" font-size="6.89" textLength="9.89" lengthAdjust="spacingAndGlyphs" fill="#000" style="" transform="rotate(0.05 350.46 276.92)">0.2</text>
<text x="350.17" y="250.94" font-size="6.89" textLength="10.04" lengthAdjust="spacingAndGlyphs" fill="#000" style="" transform="rotate(0.05 350.17 250.94)">0.4</text>
<text x="350.22" y="224.96" font-size="6.89" textLength="10.1" lengthAdjust="spacingAndGlyphs" fill="#000" style="" transform="rotate(0.05 350.22 224.96)">0.6</text>
<text x="350.25" y="198.98" font-size="6.89" textLength="10.06" lengthAdjust="spacingAndGlyphs" fill="#000" style="" transform="rotate(0.05 350.25 198.98)">0.8</text>
<text x="350.26" y="173" font-size="6.89" textLength="10.02" lengthAdjust="spacingAndGlyphs" fill="#000" style="" transform="rotate(0.05 350.26 173)">1.0</text>
<text x="384.19" y="308" font-size="6.89" textLength="11.33" lengthAdjust="spacingAndGlyphs" fill="#000" style="font-style:italic;" transform="rotate(0.05 384.19 308)" stroke="#000" stroke-width="0.05">Xor</text>
<text x="395.54" y="309.06" font-size="4.82" textLength="2.57" lengthAdjust="spacingAndGlyphs" fill="#000" style="" transform="rotate(0.05 395.54 309.06)" stroke="#000" stroke-width="0.05">2</text>
<text x="419.71" y="308" font-size="6.89" textLength="11.33" lengthAdjust="spacingAndGlyphs" fill="#000" style="font-style:italic;" transform="rotate(0.05 419.71 308)" stroke="#000" stroke-width="0.05">Xor</text>
<text x="431.13" y="309.06" font-size="4.82" textLength="2.56" lengthAdjust="spacingAndGlyphs" fill="#000" style="" transform="rotate(0.05 431.13 309.06)" stroke="#000" stroke-width="0.05">3</text>
<text x="455.23" y="308" font-size="6.89" textLength="11.33" lengthAdjust="spacingAndGlyphs" fill="#000" style="font-style:italic;" transform="rotate(0.05 455.23 308)" stroke="#000" stroke-width="0.05">Xor</text>
<text x="466.59" y="309.06" font-size="4.82" textLength="2.67" lengthAdjust="spacingAndGlyphs" fill="#000" style="" transform="rotate(0.05 466.59 309.06)" stroke="#000" stroke-width="0.05">4</text>
<text x="490.75" y="308" font-size="6.89" textLength="11.33" lengthAdjust="spacingAndGlyphs" fill="#000" style="font-style:italic;" transform="rotate(0.05 490.75 308)" stroke="#000" stroke-width="0.05">Xor</text>
<text x="502.16" y="309.06" font-size="4.82" textLength="2.52" lengthAdjust="spacingAndGlyphs" fill="#000" style="" transform="rotate(0.05 502.16 309.06)" stroke="#000" stroke-width="0.05">5</text>
<text x="526.27" y="308" font-size="6.89" textLength="11.33" lengthAdjust="spacingAndGlyphs" fill="#000" style="font-style:italic;" transform="rotate(0.05 526.27 308)" stroke="#000" stroke-width="0.05">Xor</text>
<text x="537.58" y="309.06" font-size="4.82" textLength="2.76" lengthAdjust="spacingAndGlyphs" fill="#000" style="" transform="rotate(0.05 537.58 309.06)" stroke="#000" stroke-width="0.05">6</text>
<text x="561.79" y="308" font-size="6.89" textLength="11.33" lengthAdjust="spacingAndGlyphs" fill="#000" style="font-style:italic;" transform="rotate(0.05 561.79 308)" stroke="#000" stroke-width="0.05">Xor</text>
<text x="573.17" y="309.06" font-size="4.82" textLength="2.61" lengthAdjust="spacingAndGlyphs" fill="#000" style="" transform="rotate(0.05 573.17 309.06)" stroke="#000" stroke-width="0.05">7</text>
<text x="597.31" y="308" font-size="6.89" textLength="11.33" lengthAdjust="spacingAndGlyphs" fill="#000" style="font-style:italic;" transform="rotate(0.05 597.31 308)" stroke="#000" stroke-width="0.05">Xor</text>
<text x="608.65" y="309.06" font-size="4.82" textLength="2.7" lengthAdjust="spacingAndGlyphs" fill="#000" style="" transform="rotate(0.05 608.65 309.06)" stroke="#000" stroke-width="0.05">8</text>
<text x="629.94" y="308" font-size="6.89" textLength="11.33" lengthAdjust="spacingAndGlyphs" fill="#000" style="font-style:italic;" transform="rotate(0.05 629.94 308)" stroke="#000" stroke-width="0.05">Xor</text>
<text x="641.18" y="309.06" font-size="4.82" textLength="8.56" lengthAdjust="spacingAndGlyphs" fill="#000" style="font-style:italic;" transform="rotate(0.05 641.18 309.06)" stroke="#000" stroke-width="0.05">Avg</text>
<text x="396.18" y="167.8" font-size="8.42" textLength="238.01" lengthAdjust="spacingAndGlyphs" fill="#000" style="" transform="rotate(0.05 396.18 167.8)">Proposed Framework Detection Power (Top 5%) - Xor Model</text>
<text x="468.26" y="319" font-size="8.42" textLength="95.19" lengthAdjust="spacingAndGlyphs" fill="#000" style="" transform="rotate(0.05 468.26 319)">Model/Interaction Order</text>
<text x="347.3" y="248.5" font-size="8.42" textLength="24.35" lengthAdjust="spacingAndGlyphs" fill="#000" transform="rotate(-89.95 347.3 248.5)">Power</text>
<rect x="609.3" y="172.4" width="56.7" height="24.9" rx="1" fill="#fff" fill-opacity="0.8" stroke="#ccc" stroke-opacity="0.8" stroke-width="0.5"/>
<rect x="610.8" y="174.8" width="8.1" height="2.4" fill="#0000ff"/>
<text x="622" y="177.45" font-size="4.24" textLength="8.69" lengthAdjust="spacingAndGlyphs" fill="#222" style="" transform="rotate(0.05 622 177.45)" text-rendering="auto">CNN</text>
<rect x="610.8" y="180.9" width="8.1" height="2.4" fill="#ff0000"/>
<text x="621.86" y="183.55" font-size="4.24" textLength="23.8" lengthAdjust="spacingAndGlyphs" fill="#222" style="" transform="rotate(0.05 621.86 183.55)" text-rendering="auto">DeepCOMBI</text>
<rect x="610.8" y="186.7" width="8.1" height="2.4" fill="#008000"/>
<text x="622.1" y="189.35" font-size="4.24" textLength="24.85" lengthAdjust="spacingAndGlyphs" fill="#222" style="" transform="rotate(0.05 622.1 189.35)" text-rendering="auto">Transformer</text>
<rect x="610.8" y="192.9" width="8.1" height="2.4" fill="#00bfbf"/>
<text x="621.84" y="195.55" font-size="4.24" textLength="42.23" lengthAdjust="spacingAndGlyphs" fill="#222" style="" transform="rotate(0.05 621.84 195.55)" text-rendering="auto">Proposed Framework</text>
</svg>
</body></html>
